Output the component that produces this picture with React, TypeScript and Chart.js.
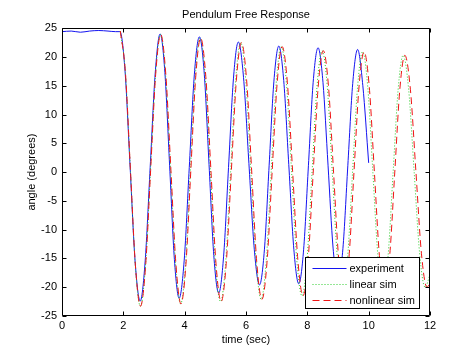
import React, { useEffect, useRef } from "react";
import { Chart, registerables } from "chart.js";

Chart.register(...registerables);

const titleText = "Pendulum Free Response";
const xLabel = "time (sec)";
const yLabel = "angle (degrees)";
const seriesNames = ["experiment", "linear sim", "nonlinear sim"];
const xTicks = [0, 2, 4, 6, 8, 10, 12];
const yTicks = [-25, -20, -15, -10, -5, 0, 5, 10, 15, 20, 25];

const expTime = [0, 0.3, 0.6, 0.9, 1.2, 1.5, 1.75, 1.89, 2.055, 2.22, 2.385, 2.55, 2.71, 2.875, 3.04, 3.2, 3.355, 3.51, 3.665, 3.82, 3.985, 4.15, 4.315, 4.48, 4.64, 4.795, 4.95, 5.11, 5.27, 5.43, 5.59, 5.75, 5.92, 6.095, 6.27, 6.44, 6.6, 6.755, 6.91, 7.07, 7.23, 7.395, 7.56, 7.72, 7.88, 8.035, 8.19, 8.35, 8.51, 8.675, 8.84, 9.0, 9.16, 9.32, 9.48, 9.64, 9.81, 10.0];
const expAngle = [24.4, 24.5, 24.3, 24.5, 24.6, 24.5, 24.4, 24.4, 17.6, 1.0, -15.6, -22.4, -15.6, 0.8, 17.2, 24.0, 17.3, 1.1, -15.2, -21.9, -15.3, 0.8, 16.9, 23.5, 17.0, 1.3, -14.5, -21.0, -14.6, 0.8, 16.2, 22.6, 16.4, 1.5, -13.4, -19.6, -13.5, 1.2, 15.8, 21.9, 15.9, 1.3, -13.4, -19.4, -13.4, 1.1, 15.6, 21.6, 15.6, 1.2, -13.2, -19.2, -13.3, 1.1, 15.4, 21.3, 15.0, 1.6];

const linTime = [1.9, 2.064, 2.228, 2.392, 2.556, 2.72, 2.884, 3.048, 3.212, 3.376, 3.54, 3.704, 3.868, 4.027, 4.186, 4.345, 4.504, 4.67, 4.837, 5.0, 5.17, 5.334, 5.498, 5.662, 5.826, 5.99, 6.159, 6.33, 6.492, 6.656, 6.82, 6.984, 7.148, 7.317, 7.486, 7.655, 7.824, 7.988, 8.152, 8.316, 8.48, 8.65, 8.813, 8.98, 9.146, 9.31, 9.474, 9.638, 9.802, 9.97, 10.135, 10.3, 10.468, 10.632, 10.796, 10.96, 11.124, 11.303, 11.482, 11.661, 11.84, 12.0];
const linAngle = [24.5, 17.5, 0.6, -16.3, -23.3, -16.4, 0.3, 17.0, 23.9, 17.0, 0.5, -16.0, -22.9, -16.1, 0.2, 16.5, 23.3, 16.6, 0.4, -15.8, -22.5, -15.9, 0.0, 15.9, 22.5, 16.0, 0.2, -15.6, -22.1, -15.7, -0.15, 15.4, 21.8, 15.5, 0.15, -15.2, -21.5, -15.3, -0.2, 14.9, 21.1, 14.9, 0.0, -14.9, -21.1, -15.0, -0.1, 14.8, 20.9, 14.8, 0.15, -14.5, -20.6, -14.6, -0.15, 14.3, 20.3, 14.4, 0.15, -14.1, -20.0, -17.8];

const nonTime = [1.9, 2.065, 2.23, 2.395, 2.56, 2.725, 2.89, 3.055, 3.22, 3.385, 3.55, 3.715, 3.88, 4.04, 4.2, 4.36, 4.52, 4.69, 4.855, 5.02, 5.19, 5.355, 5.52, 5.685, 5.85, 6.02, 6.185, 6.35, 6.52, 6.685, 6.85, 7.015, 7.18, 7.35, 7.52, 7.69, 7.86, 8.025, 8.19, 8.355, 8.52, 8.69, 8.855, 9.02, 9.19, 9.355, 9.52, 9.685, 9.85, 10.02, 10.185, 10.35, 10.52, 10.685, 10.85, 11.015, 11.18, 11.36, 11.54, 11.72, 11.9, 12.0];
const nonAngle = [24.5, 17.5, 0.6, -16.3, -23.3, -16.4, 0.3, 17.0, 23.9, 17.0, 0.5, -16.0, -22.9, -16.1, 0.2, 16.5, 23.3, 16.6, 0.4, -15.8, -22.5, -15.9, 0.0, 15.9, 22.5, 16.0, 0.2, -15.6, -22.1, -15.7, -0.15, 15.4, 21.8, 15.5, 0.15, -15.2, -21.5, -15.3, -0.2, 14.9, 21.1, 14.9, 0.0, -14.9, -21.1, -15.0, -0.1, 14.8, 20.9, 14.8, 0.15, -14.5, -20.6, -14.6, -0.15, 14.3, 20.3, 14.4, 0.15, -14.1, -20.0, -19.2];

const FONT = "'Liberation Sans', Arial, sans-serif";
const W = 474;
const H = 355;

const toPoints = (xs: number[], ys: number[]) => xs.map((x, i) => ({ x, y: ys[i] }));

const framePlugin = {
  id: "frameTicks",
  afterDatasetsDraw(chart: any) {
    const { ctx, chartArea: a, scales } = chart;
    const L = Math.round(a.left) + 0.5;
    const R = Math.round(a.right) - 0.5;
    const T = Math.round(a.top) + 0.5;
    const B = Math.round(a.bottom) - 0.5;
    const len = 4;
    ctx.save();
    ctx.strokeStyle = "#000";
    ctx.lineWidth = 1;
    ctx.beginPath();
    ctx.rect(L, T, R - L, B - T);
    for (const v of xTicks) {
      const px = Math.round(scales.x.getPixelForValue(v)) + 0.5;
      ctx.moveTo(px, B);
      ctx.lineTo(px, B - len);
      ctx.moveTo(px, T);
      ctx.lineTo(px, T + len);
    }
    for (const v of yTicks) {
      const py = Math.round(scales.y.getPixelForValue(v)) + 0.5;
      ctx.moveTo(L, py);
      ctx.lineTo(L + len, py);
      ctx.moveTo(R, py);
      ctx.lineTo(R - len, py);
    }
    ctx.stroke();
    ctx.restore();
  },
};

const legendPlugin = {
  id: "boxLegend",
  afterDraw(chart: any) {
    const { ctx, chartArea: a } = chart;
    const w = 114;
    const h = 51;
    const x0 = Math.round(a.right) - 11 - w + 0.5;
    const y0 = Math.round(a.bottom) - 8 - h + 0.5;
    ctx.save();
    ctx.fillStyle = "#fff";
    ctx.fillRect(x0, y0, w, h);
    ctx.strokeStyle = "#000";
    ctx.lineWidth = 1;
    ctx.strokeRect(x0, y0, w, h);
    ctx.font = `11px ${FONT}`;
    ctx.textBaseline = "middle";
    ctx.textAlign = "left";
    chart.data.datasets.forEach((ds: any, i: number) => {
      const yy = Math.round(y0 + 10.5 + i * 16.2) + 0.5;
      ctx.beginPath();
      ctx.strokeStyle = ds.borderColor;
      ctx.lineWidth = ds.borderWidth;
      ctx.setLineDash(ds.borderDash || []);
      ctx.moveTo(x0 + 7, yy);
      ctx.lineTo(x0 + 41, yy);
      ctx.stroke();
      ctx.setLineDash([]);
      ctx.fillStyle = "#000";
      ctx.fillText(ds.label, x0 + 44, yy);
    });
    ctx.restore();
  },
};

export default function App() {
  const ref = useRef<HTMLCanvasElement | null>(null);

  useEffect(() => {
    if (!ref.current) return;
    const font = { family: FONT, size: 11, weight: "normal" as const };
    const chart = new Chart(ref.current, {
      type: "line",
      data: {
        datasets: [
          {
            label: seriesNames[0],
            data: toPoints(expTime, expAngle),
            borderColor: "#1414f0",
            borderWidth: 1,
            pointRadius: 0,
            fill: false,
            cubicInterpolationMode: "monotone",
            order: 3,
          },
          {
            label: seriesNames[1],
            data: toPoints(linTime, linAngle),
            borderColor: "#2ccc2c",
            borderWidth: 1,
            borderDash: [1, 2],
            pointRadius: 0,
            fill: false,
            cubicInterpolationMode: "monotone",
            order: 2,
          },
          {
            label: seriesNames[2],
            data: toPoints(nonTime, nonAngle),
            borderColor: "#f01414",
            borderWidth: 1,
            borderDash: [7, 4],
            pointRadius: 0,
            fill: false,
            cubicInterpolationMode: "monotone",
            order: 1,
          },
        ],
      },
      options: {
        responsive: false,
        devicePixelRatio: 1,
        animation: false,
        events: [],
        layout: { padding: { left: 0, right: 44, top: 0, bottom: 0 } },
        plugins: {
          legend: { display: false },
          tooltip: { enabled: false },
          title: {
            display: true,
            text: titleText,
            fullSize: false,
            color: "#000",
            font,
            padding: { top: 8, bottom: 7 },
          },
        },
        scales: {
          x: {
            type: "linear",
            min: 0,
            max: 12,
            grid: { display: false, drawTicks: false },
            border: { display: false },
            ticks: { font, color: "#000", padding: 3, maxRotation: 0, autoSkip: false },
            afterBuildTicks: (s: any) => {
              s.ticks = xTicks.map((v) => ({ value: v }));
            },
            afterFit: (s: any) => {
              s.height = 39;
              s.paddingLeft = 0;
              s.paddingRight = 0;
            },
            title: { display: true, text: xLabel, color: "#000", font, padding: { top: 0, bottom: 8 } },
          },
          y: {
            type: "linear",
            min: -25,
            max: 25,
            grid: { display: false, drawTicks: false },
            border: { display: false },
            ticks: { font, color: "#000", padding: 5, autoSkip: false },
            afterBuildTicks: (s: any) => {
              s.ticks = yTicks.map((v) => ({ value: v }));
            },
            afterFit: (s: any) => {
              s.width = 62;
              s.paddingTop = 0;
              s.paddingBottom = 0;
            },
            title: { display: true, text: yLabel, color: "#000", font, padding: { top: 25, bottom: 0 } },
          },
        },
      },
      plugins: [framePlugin, legendPlugin],
    });
    return () => chart.destroy();
  }, []);

  return (
    <div style={{ position: "fixed", left: 0, top: 0, width: W, height: H, background: "#fff" }}>
      <canvas ref={ref} width={W} height={H} style={{ width: W, height: H, display: "block" }} />
    </div>
  );
}
